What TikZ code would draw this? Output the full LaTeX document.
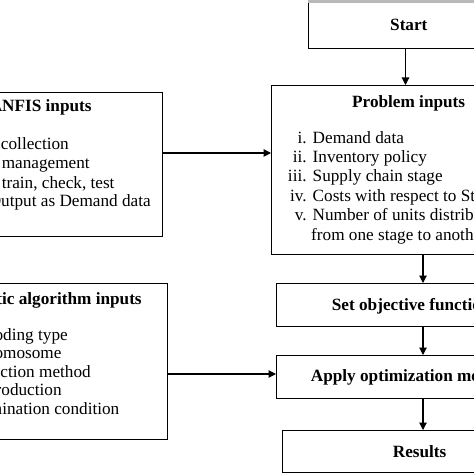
\documentclass[tikz,border=0pt]{standalone}
\usepackage{fontspec}
\setmainfont{Liberation Serif}
\usetikzlibrary{arrows.meta}
\begin{document}
\begin{tikzpicture}[x=1bp,y=-1bp,
  box/.style={draw=black, line width=1.3bp, fill=white, inner sep=0pt, anchor=north west},
  txt/.style={inner sep=0pt, anchor=base west, font=\fontsize{17.2bp}{19bp}\selectfont},
  btxt/.style={inner sep=0pt, anchor=base west, font=\fontsize{17.2bp}{19bp}\selectfont\bfseries},
  num/.style={txt, anchor=base east},
  arr/.style={line width=1.1bp, -{Triangle[length=7.5bp,width=7.5bp]}}]
\useasboundingbox (0,0) rectangle (474,474);
\clip (0,0) rectangle (474,474);
\fill[white] (0,0) rectangle (474,474);

% boxes
\node[box, minimum width=172.5bp, minimum height=46.5bp] (start) at (307.5,1.5) {};
\node[box, minimum width=209bp, minimum height=169bp] (prob) at (271,85) {};
\node[box, minimum width=172bp, minimum height=144bp] (anfis) at (-10,92) {};
\node[box, minimum width=177bp, minimum height=156bp] (ga) at (-10,283) {};
\node[box, minimum width=204bp, minimum height=43bp] (setobj) at (276,283) {};
\node[box, minimum width=204bp, minimum height=43bp] (apply) at (276,355) {};
\node[box, minimum width=198bp, minimum height=42bp] (res) at (282,430) {};
\draw[gray!55, line width=2.6bp] (start.north west) -- (start.north east);

% connectors
\coordinate (xa) at (405.5,0);
\coordinate (xb) at (423,0);
\coordinate (ya) at (0,153);
\coordinate (yb) at (0,374);
\draw[arr] (start.south -| xa) -- (prob.north -| xa);
\draw[arr] (anfis.east |- ya) -- (prob.west |- ya);
\draw[arr] (prob.south -| xb) -- (setobj.north -| xb);
\draw[arr] (setobj.south -| xb) -- (apply.north -| xb);
\draw[arr] (apply.south -| xb) -- (res.north -| xb);
\draw[arr] (ga.east |- yb) -- (apply.west |- yb);

% texts right column
\node[btxt] (tstart) at (390,30.6) {Start};
\node[btxt] (tprob) at (352,107.3) {Problem inputs};
\node[num] (n1) at (306.8,144) {i.};
\node[num] (n2) at (306.8,163) {ii.};
\node[num] (n3) at (306.8,182) {iii.};
\node[num] (n4) at (306.8,201.5) {iv.};
\node[num] (n5) at (306.8,221) {v.};
\node[txt] (p1) at (312.5,144) {Demand data};
\node[txt] (p2) at (312.5,163) {Inventory policy};
\node[txt] (p3) at (312.5,182) {Supply chain stage};
\node[txt] (p4) at (312.5,201.5) {Costs with respect to Stages};
\node[txt] (p5) at (312.5,221) {Number of units distributed};
\node[txt] (p6) at (311,240) {from one stage to another};
\node[btxt] (tset) at (331.7,310.6) {Set objective function};
\node[btxt] (tapply) at (310.7,381.5) {Apply optimization method};
\node[btxt] (tres) at (392.7,457.3) {Results};

% texts ANFIS
\node[btxt] (tanfis) at (-10.4,112) {ANFIS inputs};
\node[txt] (a1) at (0.8,150) {collection};
\node[txt] (a2) at (1.6,169) {management};
\node[txt] (a3) at (1.6,188.3) {train, check, test};
\node[txt] (a4) at (-11.4,207) {Output as Demand data};

% texts GA
\node[btxt] (tga) at (-42,304.3) {Genetic algorithm inputs};
\node[txt] (g1) at (-32.3,340) {Encoding type};
\node[txt] (g2) at (-31.4,358.6) {Chromosome};
\node[txt] (g3) at (-29.4,377.2) {Selection method};
\node[txt] (g4) at (-32.2,395.8) {Reproduction};
\node[txt] (g5) at (-34,414.4) {Termination condition};
\end{tikzpicture}
\end{document}
